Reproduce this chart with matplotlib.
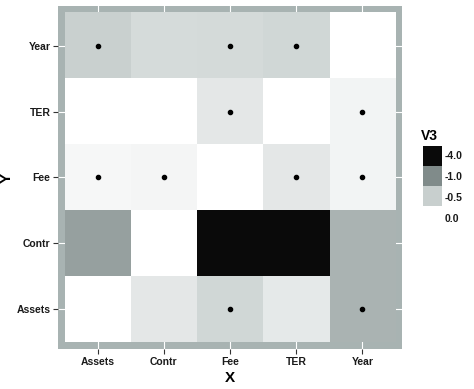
import numpy as np
import matplotlib
matplotlib.use("Agg")
import matplotlib.pyplot as plt
from matplotlib.colors import LinearSegmentedColormap, Normalize
from matplotlib.patches import Rectangle

# variables, bottom row first
x_labels = ["Assets", "Contr", "Fee", "TER", "Year"]
y_labels = ["Assets", "Contr", "Fee", "TER", "Year"]

# V3 values, rows follow y_labels, columns follow x_labels
v3 = np.array([
    [0.0, -0.25, -0.42, -0.23, -0.70],   # Assets
    [-0.83, 0.0, -4.0, -4.0, -0.70],     # Contr
    [-0.08, -0.10, 0.0, -0.25, -0.12],   # Fee
    [0.0, 0.0, -0.25, 0.0, -0.12],       # TER
    [-0.48, -0.36, -0.38, -0.42, 0.0],   # Year
])

# significance markers (1 = dot)
sig = np.array([
    [0, 0, 1, 0, 1],
    [0, 0, 0, 0, 0],
    [1, 1, 0, 1, 1],
    [0, 0, 1, 0, 1],
    [1, 0, 1, 1, 0],
])

legend_breaks = [-4.0, -1.0, -0.5]
legend_labels = ["-4.0", "-1.0", "-0.5", "0.0"]

plt.rcParams["font.family"] = ["Liberation Sans", "DejaVu Sans"]

cmap = LinearSegmentedColormap.from_list(
    "v3", [(0.0, "#0a0a0a"), (0.75, "#7e8988"), (0.875, "#c6cecd"), (1.0, "#ffffff")])
norm = Normalize(vmin=-4, vmax=0)

fig = plt.figure(figsize=(4.74, 3.89), dpi=100)
ax = fig.add_axes([58 / 474, 40 / 389, 344 / 474, 343 / 389])
ax.set_facecolor("#a8b3b2")

ax.set_xticks(range(len(x_labels)))
ax.set_yticks(range(len(y_labels)))
ax.grid(True, color="white", linewidth=0.8)
ax.set_axisbelow(True)

ax.imshow(v3, cmap=cmap, norm=norm, origin="lower", aspect="auto",
          interpolation="nearest", extent=(-0.5, 4.5, -0.5, 4.5), zorder=2)

yy, xx = np.nonzero(sig)
ax.scatter(xx, yy, s=9, color="black", zorder=3)

ax.set_xlim(-0.6, 4.6)
ax.set_ylim(-0.6, 4.6)
ax.set_xticklabels(x_labels, fontsize=7.5, fontweight="bold", color="#1a1a1a")
ax.set_yticklabels(y_labels, fontsize=7.5, fontweight="bold", color="#1a1a1a")
ax.tick_params(length=3.5, width=0.8, color="#333333", pad=2)
for s in ax.spines.values():
    s.set_visible(False)

ax.set_xlabel("X", fontsize=11, fontweight="bold", labelpad=3)
ax.set_ylabel("Y", fontsize=11, fontweight="bold")
ax.yaxis.set_label_coords(-0.128, 0.5)

# legend
fig.text(421 / 474, 1 - 136 / 389, "V3", fontsize=10, fontweight="bold",
         ha="left", va="center")
bx, bw, bh = 423, 19, 20
for i, val in enumerate(legend_breaks):
    top = 146 + i * bh
    fig.patches.append(Rectangle((bx / 474, 1 - (top + bh) / 389), bw / 474, bh / 389,
                                 transform=fig.transFigure, color=cmap(norm(val)), lw=0))
for i, lab in enumerate(legend_labels):
    fig.text(445 / 474, 1 - (156 + i * 21) / 389, lab, fontsize=7.5, fontweight="bold",
             ha="left", va="center", color="#1a1a1a")

fig.savefig("out.png", dpi=100)
